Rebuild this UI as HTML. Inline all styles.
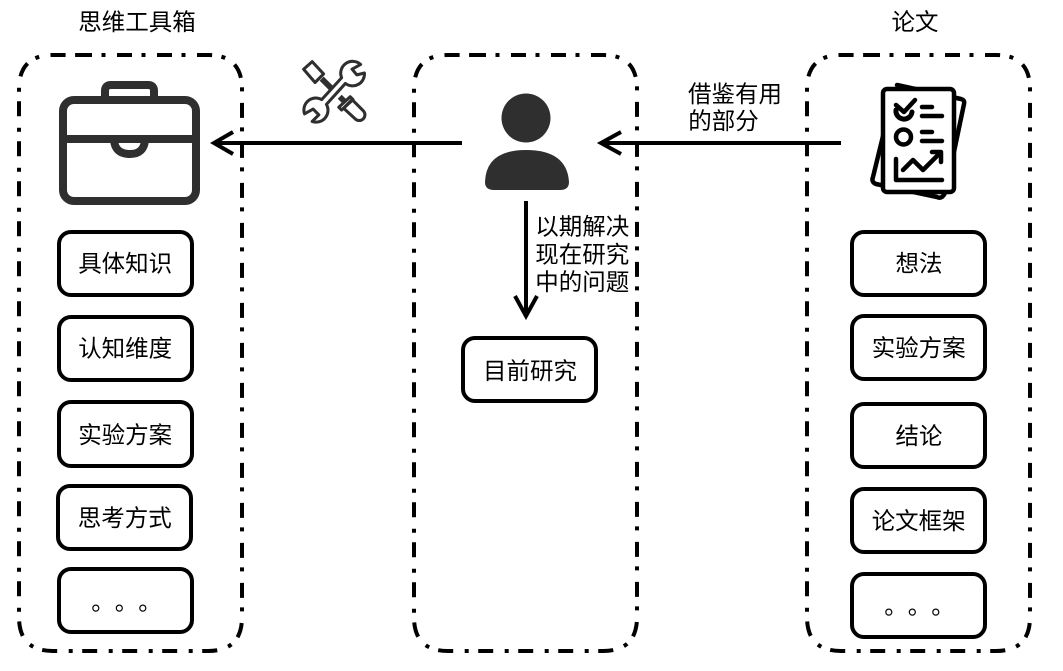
<!DOCTYPE html>
<html><head><meta charset="utf-8"><style>
html,body{margin:0;padding:0;background:#fff}
svg{display:block}
text{font-family:"Liberation Sans","WenQuanYi Zen Hei","Noto Sans CJK SC",sans-serif;font-size:23.5px;fill:#000;text-anchor:middle;text-spacing-trim:space-all}
.g{fill:none;stroke:#000;stroke-width:4;stroke-dasharray:15 9.5 4 11.5}
.b{fill:#fff;stroke:#000;stroke-width:4}
.a{fill:none;stroke:#000;stroke-width:4}
.i{fill:none;stroke:#2f2f2f}
</style></head><body>
<svg width="1063" height="671" viewBox="0 0 1063 671" xmlns="http://www.w3.org/2000/svg">
<path class="g" d="M77 55H208Q242 55 242 89V617Q242 651 208 651H53Q19 651 19 617V89Q19 55 53 55H77"/>
<path class="g" d="M471 55H603Q637 55 637 89V617Q637 651 603 651H448Q414 651 414 617V89Q414 55 448 55H471"/>
<path class="g" d="M865 55H996Q1030 55 1030 89V617Q1030 651 996 651H841Q807 651 807 617V89Q807 55 841 55H865"/>

<text x="137" y="30">思维工具箱</text>
<text x="915" y="30">论文</text>

<rect class="b" x="59" y="232" width="133" height="63" rx="12"/><text x="125.2" y="271.500">具体知识</text>
<rect class="b" x="59" y="317" width="133" height="63" rx="12"/><text x="125.2" y="356.500">认知维度</text>
<rect class="b" x="59" y="402" width="133" height="64" rx="12"/><text x="125.2" y="443">实验方案</text>
<rect class="b" x="58" y="486" width="133" height="63" rx="12"/><text x="124.8" y="526">思考方式</text>
<rect class="b" x="59" y="569" width="133" height="63" rx="12"/><text x="126.5" y="610">。。。</text>

<rect class="b" x="463" y="338" width="133" height="63" rx="12"/><text x="530" y="379">目前研究</text>

<rect class="b" x="852" y="232" width="133" height="63" rx="12"/><text x="919" y="271.500">想法</text>
<rect class="b" x="852" y="316" width="133" height="63" rx="12"/><text x="918.7" y="356">实验方案</text>
<rect class="b" x="852" y="404" width="133" height="63" rx="12"/><text x="919" y="444">结论</text>
<rect class="b" x="852" y="489" width="133" height="63" rx="12"/><text x="918.7" y="529">论文框架</text>
<rect class="b" x="852" y="574" width="133" height="63" rx="12"/><text x="919.5" y="614">。。。</text>

<path class="a" d="M462 143H214M233 132L214 143L233 154"/>
<path class="a" d="M841 143H601M621 132L601 143L621 154"/>
<path class="a" d="M526 201V316M515 296L526 316L537 296"/>

<text x="735" y="102">借鉴有用</text>
<text x="723.5" y="129">的部分</text>
<text x="582.3" y="234.500">以期解决</text>
<text x="582.3" y="262.500">现在研究</text>
<text x="582.3" y="290">中的问题</text>

<!-- briefcase -->
<g class="i" stroke-width="8">
<rect x="63" y="100" width="133" height="101" rx="11"/>
<path d="M105 98V91Q105 85 111 85H148Q154 85 154 91V98"/>
<path d="M63 139H196"/>
<path d="M114 140Q115 154 130 154Q144 154 145 140"/>
</g>

<!-- tools -->
<g transform="translate(334.5 92) scale(.95) translate(-334.5 -92)" fill="none" stroke="#2f2f2f" stroke-width="3.200" stroke-linejoin="round">
<path d="M342 77A12.5 12.5 0 0 1 362 63L353 68L358 74L366 72A12.5 12.5 0 0 1 346 83L326 105A12.5 12.5 0 0 1 311 123L318 116L312 110L303 115A12.5 12.5 0 0 1 321 100Z"/>
<path d="M302 68L311 60L323 73L314 82Z"/>
<path d="M321 78L331 88M340 97L345 102" stroke-width="6"/>
<path d="M339 108L351 97L354 100L342 111Z"/>
<path d="M344 109L353 100L365 112A5.5 5.5 0 0 1 356 120Z"/>
</g>

<!-- person -->
<circle cx="526" cy="118" r="24.5" fill="#2f2f2f"/>
<path d="M485 182Q486 150 526 150Q567 150 569 182Q569 190 560 190H494Q485 190 485 182Z" fill="#2f2f2f"/>

<!-- report -->
<g fill="none" stroke="#000" stroke-width="4.5" stroke-linejoin="round" stroke-linecap="round">
<path d="M897 85L961 99Q965 100 964 104L946 190Q943 200 937 197L876 184Q871 182 873 177L884 132"/>
<rect x="883" y="89" width="71" height="103" rx="4" fill="#fff"/>
<path d="M896 110A8 8 0 1 0 912 112" stroke-width="5"/>
<path d="M896 105L904 112L915 100"/>
<path d="M922 107H932M922 116H942M922 132H932M922 141H942"/>
<circle cx="903.500" cy="137" r="7.500"/>
<path d="M896 159V180H942"/>
<path d="M903 170L913 160L923 170L940 153M932 152H941V162"/>
</g>
</svg>
</body></html>
